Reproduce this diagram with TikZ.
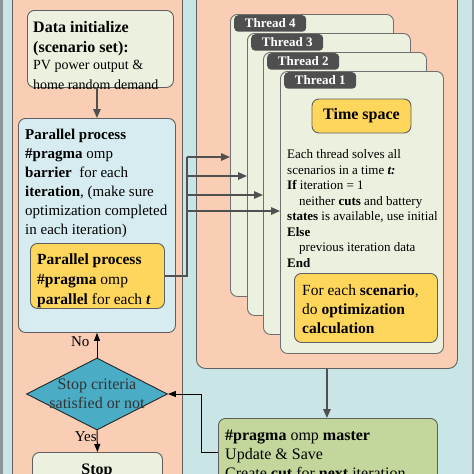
\documentclass[tikz,border=0pt]{standalone}
\usepackage{fontspec}
\setmainfont{Liberation Serif}
\usetikzlibrary{arrows.meta, positioning, shapes.geometric}
\definecolor{bgblue}{HTML}{CAE5E6}
\definecolor{sidegray}{HTML}{8A9597}
\definecolor{salmon}{HTML}{F9CEB5}
\definecolor{cream}{HTML}{EBF1DE}
\definecolor{paleblue}{HTML}{D7ECF0}
\definecolor{gold}{HTML}{FFD65C}
\definecolor{teal}{HTML}{4BACC6}
\definecolor{sage}{HTML}{C3D69B}
\definecolor{tabgray}{HTML}{4F4F4F}
\definecolor{edge}{HTML}{5F5F5F}
\definecolor{wire}{HTML}{505050}

\begin{document}
\begin{tikzpicture}[x=1pt, y=-1pt,
  box/.style={draw=edge, line width=0.9pt, rounded corners=7pt, anchor=north west, inner sep=0pt},
  tab/.style={fill=tabgray, rounded corners=4pt, anchor=north west, inner sep=0pt,
    minimum width=72, minimum height=16.5, text=white, font=\fontsize{13}{15}\selectfont\bfseries},
  txt/.style={anchor=north west, align=left, inner sep=0pt},
  note/.style={txt, font=\fontsize{13}{15.5}\selectfont},
  body/.style={txt, font=\fontsize{15}{19}\selectfont},
  flow/.style={draw=wire, line width=1.5pt, -{Triangle[length=9pt, width=7.5pt]}},
  link/.style={draw=black, line width=1pt, -{Triangle[length=8pt, width=6pt]}},
  lbl/.style={font=\fontsize{15}{18}\selectfont, inner sep=1pt}
]
\clip (0,0) rectangle (474,474);
\fill[bgblue] (0,0) rectangle (474,474);
\fill[sidegray] (0,0) rectangle (3,474);
\fill[sidegray] (472,0) rectangle (474,474);

\node[draw=edge, fill=salmon, line width=0.9pt, anchor=north west, inner sep=0pt,
  minimum width=170, minimum height=520] (lp) at (12,-10) {};
\node[box, fill=salmon, rounded corners=9pt, minimum width=261, minimum height=378] (mp) at (196,-10) {};

\node[box, fill=cream, minimum width=146, minimum height=77] (init) at (27,10) {};
\node[txt, font=\fontsize{16}{20}\selectfont] (inittxt) at (33,21)
  {\textbf{Data initialize}\\\textbf{(scenario set):}\\[-3pt]
   \fontsize{14}{17}\selectfont PV power output \&\\\fontsize{14}{17}\selectfont home random demand};

\node[box, fill=paleblue, minimum width=157, minimum height=214] (par) at (18,118) {};
\node[body] (partxt) at (25,128.5)
  {\textbf{Parallel process}\\\textbf{\#pragma} omp\\\textbf{barrier}~ for each\\\textbf{iteration}, (make sure\\optimization completed\\in each iteration)};
\node[box, fill=gold, minimum width=134, minimum height=65] (inpar) at (30,243) {};
\node[body, font=\fontsize{15.5}{20}\selectfont] (inpartxt) at (37,254)
  {\textbf{Parallel process}\\\textbf{\#pragma} omp\\\textbf{parallel} for each \textbf{\textit{t}}};

\node[diamond, draw=black!85, fill=teal, line width=0.9pt, minimum width=141, minimum height=72, inner sep=0pt] (crit) at (97,394) {};
\node[align=center, inner sep=0pt, text=black!80, font=\fontsize{16}{19}\selectfont] (crittxt) at (crit) {Stop criteria\\satisfied or not};

\node[box, fill=cream, minimum width=130, minimum height=45] (stop) at (32,452) {};
\node[anchor=base, inner sep=0pt, font=\fontsize{16}{19}\selectfont\bfseries] (stoptxt) at (97,474) {Stop};

\foreach \i/\x/\y in {4/230/14, 3/247/33, 2/263/52, 1/280/71} {
  \node[box, fill=cream, draw=edge!90, minimum width=163, minimum height=282] (thr\i) at (\x,\y) {};
  \node[tab] (tab\i) at ([xshift=4pt, yshift=-1pt]thr\i.north west) {Thread \i};
}

\node[box, anchor=center, fill=gold, minimum width=99, minimum height=34,
  font=\fontsize{16}{19}\selectfont\bfseries] (ts) at (361.5,116) {Time space};
\node[note] (solve) at (287,149.5)
  {Each thread solves all\\scenarios in a time \textbf{\textit{t:}}\\\textbf{If} iteration = 1\\
   \hspace*{12pt}neither \textbf{cuts} and battery\\\textbf{states} is available, use initial\\
   \textbf{Else}\\\hspace*{12pt}previous iteration data\\\textbf{End}};
\node[box, fill=gold, minimum width=143, minimum height=69] (scen) at (294,273) {};
\node[body, font=\fontsize{15.5}{19}\selectfont] (scentxt) at (302,285)
  {For each \textbf{scenario},\\do \textbf{optimization}\\\textbf{calculation}};

\node[box, fill=sage, minimum width=219, minimum height=68] (master) at (218,418) {};
\node[body, font=\fontsize{16}{19}\selectfont] (mastertxt) at (225,430)
  {\textbf{\#pragma} omp \textbf{master}\\Update \& Save\\Create \textbf{cut} for \textbf{next} iteration};

\coordinate (bus) at (187,0);
\foreach \i/\y in {4/157, 3/176, 2/195, 1/211}
  \coordinate (in\i) at (thr\i.west |- 0,\y);

\draw[flow] (init.south -| par.north) -- (par.north);
\draw[draw=wire, line width=1.5pt] (inpar.east) -| (bus |- in4);
\foreach \i in {1,...,4}
  \draw[flow] (bus |- in\i) -- (in\i);
\draw[link] (crit.north) -- node[lbl, anchor=east, xshift=-6pt, yshift=4pt] (no) {No} (par.south -| crit.north);
\draw[link] (crit.south) -- node[lbl, anchor=east, xshift=1pt, yshift=5pt] (yes) {Yes} (stop.north);
\draw[flow] (mp.south) -- (mp.south |- master.north);
\draw[link] (master.west) -- ++(-17,0) |- (crit.east);
\end{tikzpicture}
\end{document}
